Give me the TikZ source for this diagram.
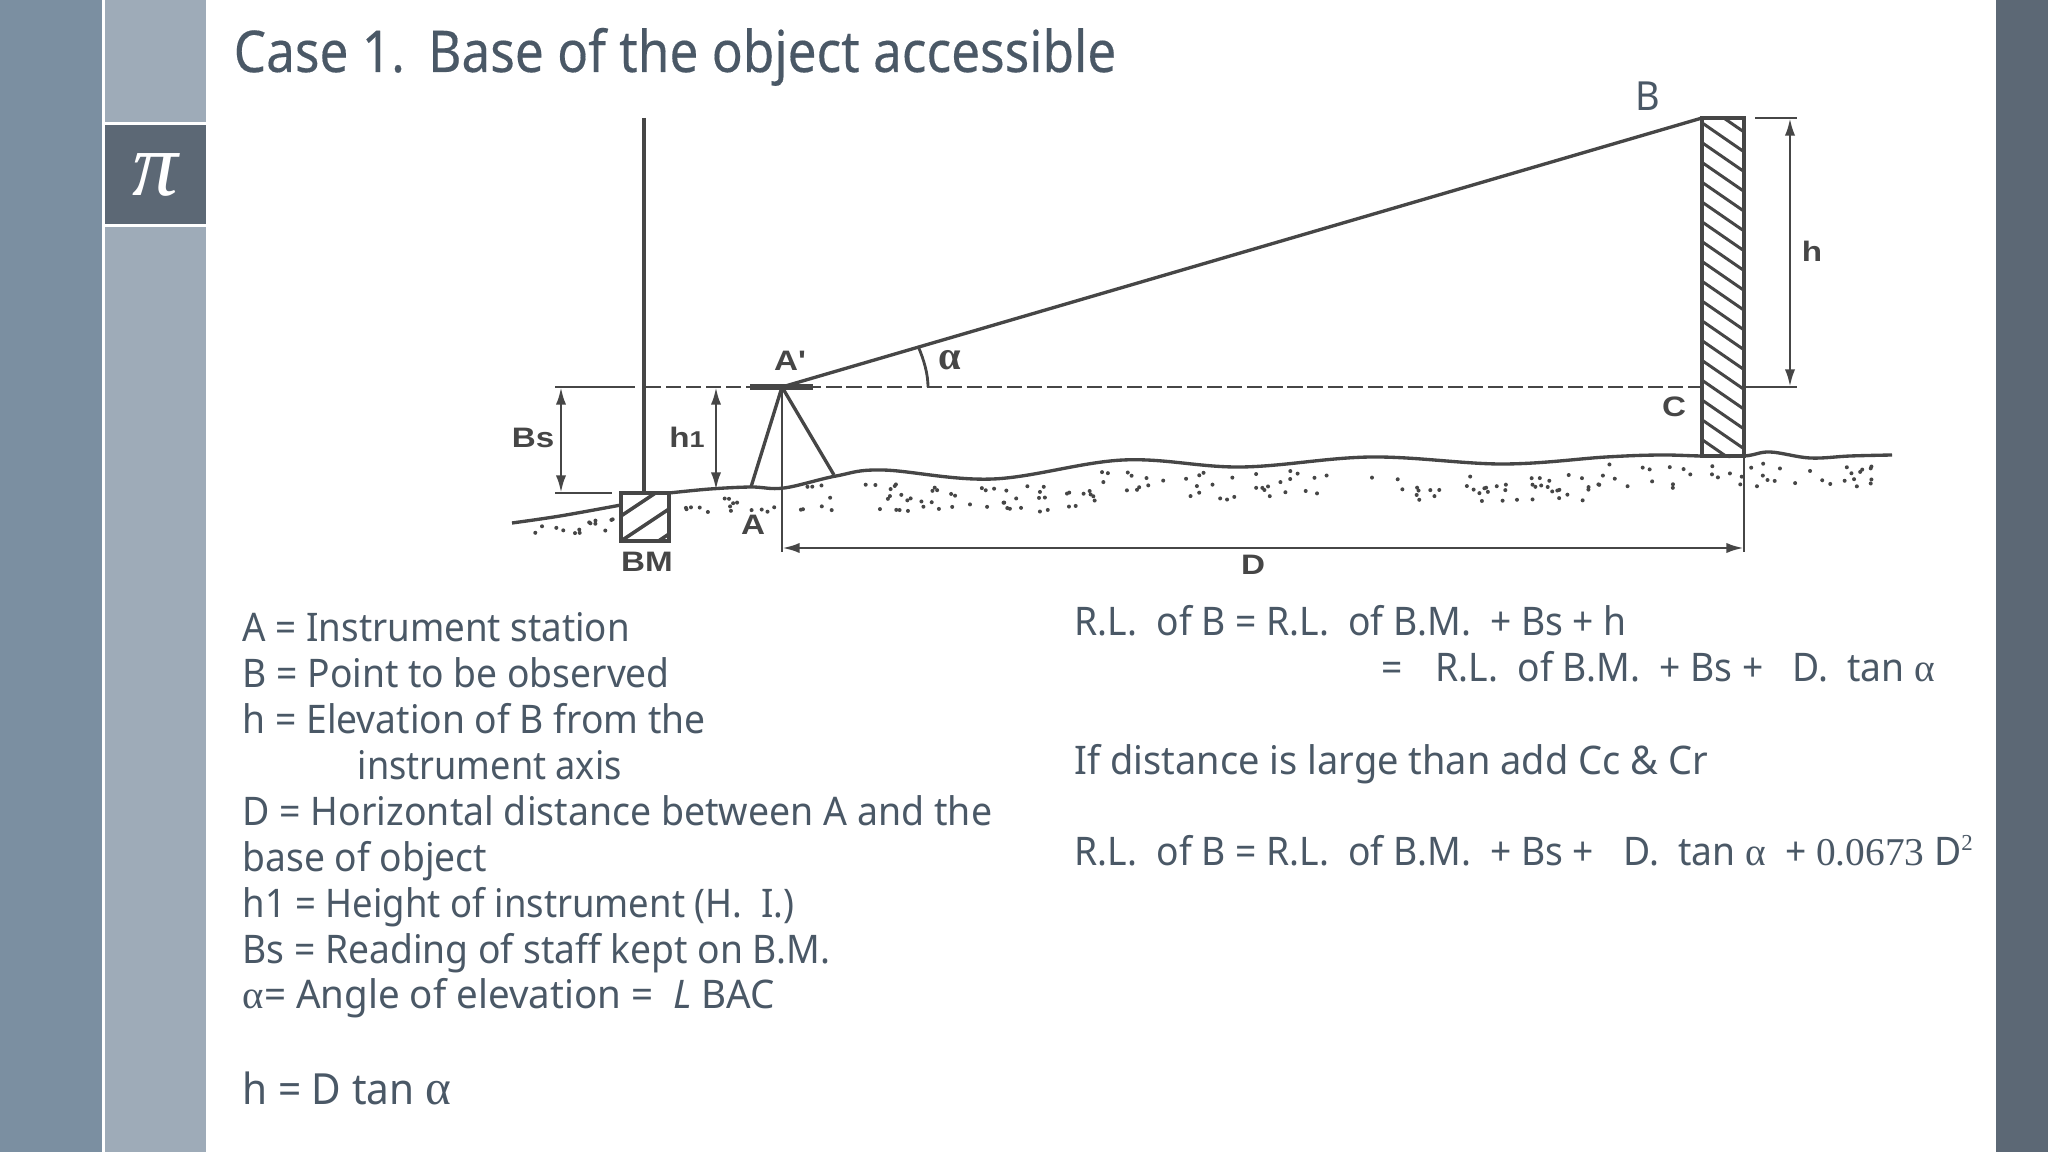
\documentclass[tikz,border=0pt]{standalone}
\usepackage{graphicx}
\usepackage{fontspec}
\setmainfont[FakeStretch=0.945]{Noto Sans}
\newfontfamily\titlefont[FakeStretch=0.89,FakeBold=0.25]{Noto Sans}
\newfontfamily\serifgr{Liberation Serif}
\newfontfamily\labfont[FakeStretch=1.18]{Liberation Sans}
\newfontfamily\pifont{Liberation Serif}
\usetikzlibrary{arrows.meta}
\definecolor{bandA}{HTML}{7B8FA1}
\definecolor{bandB}{HTML}{9EABB8}
\definecolor{bandC}{HTML}{5C6875}
\definecolor{ink}{HTML}{4A5866}
\definecolor{sketch}{HTML}{464646}
\newcommand{\al}{{\serifgr α}}
\newcommand{\stw}[2]{\scalebox{#1}[1]{#2}}
\tikzset{
  x=0.01cm,y=-0.01cm,
  band/.style={fill=#1,draw=none},
  body/.style={anchor=base west,inner sep=0,text=ink,font=\fontsize{11.2}{12}\selectfont},
  fig/.style={draw=sketch,line width=0.95pt},
  thin fig/.style={draw=sketch,line width=0.8pt},
  dim/.style={thin fig,{Latex[length=5pt,width=2.9pt]}-{Latex[length=5pt,width=2.9pt]}},
  lab/.style={inner sep=0,text=sketch,font=\labfont\fontsize{8}{9}\selectfont\bfseries},
  speck/.style={fill=sketch},
}
\begin{document}
\begin{tikzpicture}
\useasboundingbox (0,0) rectangle (2048,1152);
\fill[white] (0,0) rectangle (2048,1152);
% slide bands
\path[band=bandA] (0,0) rectangle (102,1152);
\path[band=bandB] (105,0) rectangle (206,122);
\path[band=bandC] (105,125) rectangle (206,224);
\path[band=bandB] (105,227) rectangle (206,1152);
\path[band=bandC] (1996,0) rectangle (2048,1152);
\node[text=white,inner sep=0,font=\pifont\fontsize{26}{28}\selectfont\itshape] (pi) at (155,175) {π};
% title
\node[anchor=base west,inner sep=0,text=ink,font=\titlefont\fontsize{16.4}{18}\selectfont] (title) at (233,72) {Case 1.\hspace{6.6pt}Base of the object accessible};
% key points
\coordinate (staffTop) at (644,118);
\coordinate (staffBot) at (644,493);
\coordinate (apex) at (782,387);
\coordinate (legL) at (751,487);
\coordinate (legR) at (834,475);
\coordinate (plumb) at (782,552);
\coordinate (top) at (1702,118);
\coordinate (levelL) at (555,387);
\coordinate (levelA) at (635,387);
\coordinate (levelB) at (646,387);
\coordinate (levelC) at (1702,387);
\coordinate (barL) at (750,387);
\coordinate (barR) at (813,387);
\coordinate (arcA) at (928,387);
\coordinate (arcB) at (918,346);
% ground
\draw[fig] plot[smooth,tension=0.6] coordinates {(512,523) (560,516) (621,505)};
\draw[fig] plot[smooth,tension=0.6] coordinates {(669,493) (710,489) (751,487) (784,488) (836,476) (883,470) (993,479) (1123,460) (1241,467) (1371,457) (1502,464) (1606,457) (1660,455) (1702,456) (1744,456) (1770,452) (1810,458) (1850,456) (1892,455)};
% speckles
\pgfmathsetseed{4711}
\foreach \i in {1,...,60}{
  \pgfmathsetmacro{\dx}{800+rnd*300}
  \pgfmathsetmacro{\dy}{484+rnd*28}
  \fill[speck] (\dx,\dy) circle (2);
}
\foreach \i in {1,...,80}{
  \pgfmathsetmacro{\dx}{1100+rnd*500}
  \pgfmathsetmacro{\dy}{471+rnd*30}
  \fill[speck] (\dx,\dy) circle (2);
}
\foreach \i in {1,...,40}{
  \pgfmathsetmacro{\dx}{1600+rnd*290}
  \pgfmathsetmacro{\dy}{463+rnd*26}
  \fill[speck] (\dx,\dy) circle (2);
}
\foreach \i in {1,...,14}{
  \pgfmathsetmacro{\dx}{520+rnd*95}
  \pgfmathsetmacro{\dy}{528+rnd*13-(\dx-520)*0.12}
  \fill[speck] (\dx,\dy) circle (2);
}
\foreach \i in {1,...,15}{
  \pgfmathsetmacro{\dx}{680+rnd*95}
  \pgfmathsetmacro{\dy}{495+rnd*17}
  \fill[speck] (\dx,\dy) circle (2);
}
% staff and BM
\draw[fig,line width=1.05pt] (staffTop) -- (staffBot);
\draw[fig,line width=1.05pt] (621,493) rectangle (669,541);
\begin{scope}
\clip (621,493) rectangle (669,541);
\foreach \k in {0,1,2,3}{
  \draw[fig,line width=1pt] (621,{516+\k*25}) -- (669,{516+\k*25-32});
}
\end{scope}
% level line and instrument
\draw[thin fig] (levelL) -- (levelA);
\draw[thin fig,dash pattern=on 4.3pt off 1.4pt] (levelB) -- (levelC);
\draw[fig,line width=1.9pt] (barL) -- (barR);
\draw[fig] (apex) -- (top);
\draw[fig] (apex) -- (legL);
\draw[fig] (apex) -- (legR);
\draw[thin fig] (apex) -- (plumb);
\draw[thin fig] (arcA) .. controls (928,374) and (924,360) .. (arcB);
% column
\draw[fig,fill=white] (1702,118) rectangle (1744,456);
\begin{scope}
\clip (1702,118) rectangle (1744,456);
\foreach \k in {0,...,17}{
  \draw[fig,line width=0.85pt] (1702,{103+\k*19.8}) -- (1744,{132+\k*19.8});
}
\end{scope}
% dimensions
\coordinate (hT) at (1790,118);
\coordinate (hB) at (1790,387);
\draw[thin fig] (1755,118) -- (1797,118);
\draw[thin fig] (1744,387) -- (1797,387);
\draw[dim] (hT) -- (hB);
\coordinate (bsT) at (561,387);
\coordinate (bsB) at (561,493);
\draw[thin fig] (555,493) -- (612,493);
\draw[dim] (bsT) -- (bsB);
\coordinate (hoT) at (716,387);
\coordinate (hoB) at (716,490);
\draw[dim] (hoT) -- (hoB);
\coordinate (dL) at (782,548);
\coordinate (dR) at (1744,548);
\draw[dim] (dL) -- (dR);
\draw[thin fig] (1744,456) -- (1744,552);
% sketch labels
\node[lab] (lBs) at (533,438) {Bs};
\node[lab] (lh1) at (687,437) {h{\fontsize{6.5}{7}\selectfont 1}};
\node[lab] (lBM) at (647,562) {BM};
\node[lab] (lA) at (753,525) {A};
\node[lab] (lAp) at (790,361) {A'};
\node[lab,font=\serifgr\fontsize{11.5}{12}\selectfont\bfseries] (lal) at (950,360) {α};
\node[lab] (lC) at (1674,407) {C};
\node[lab] (lh) at (1812,251) {h};
\node[lab] (lD) at (1253,565) {D};
\node[inner sep=0,text=ink,font=\fontsize{11.4}{12}\selectfont] (lB) at (1648,96) {B};
% left text
\node[body] (t1) at (242,641) {\stw{0.987}{A = Instrument station}};
\node[body] (t2) at (242,687) {B = Point to be observed};
\node[body] (t3) at (242,733) {h = Elevation of B from the};
\node[body] (t4) at (357,779) {\stw{0.97}{instrument axis}};
\node[body] (t5) at (242,825) {\stw{1.007}{D = Horizontal distance between A and the}};
\node[body] (t6) at (242,871) {base of object};
\node[body] (t7) at (242,917) {\stw{0.98}{h1 = Height of instrument (H.\ \ I.)}};
\node[body] (t8) at (242,963) {Bs = Reading of staff kept on B.M.};
\node[body] (t9) at (242,1008) {\stw{1.035}{\al= Angle of elevation =\ \ \textit{L} BAC}};
\node[body,font=\fontsize{12.2}{13}\selectfont] (t10) at (242,1104) {h = D tan {\fontsize{14}{14}\selectfont\al}};
% right text
\node[body] (r1) at (1074,636) {R.L.\ \ of B = R.L.\ \ of B.M.\ \ + Bs + h};
\node[body] (r2a) at (1381,681) {=};
\node[body] (r2b) at (1435,681) {R.L.\ \ of B.M.\ \ + Bs +\ \ \ D.\ \ tan \al};
\node[body] (r3) at (1074,774) {\stw{1.02}{If distance is large than add Cc \& Cr}};
\node[body] (r4) at (1074,865) {R.L.\ \ of B = R.L.\ \ of B.M.\ \ + Bs +\ \ \ D.\ \ tan \al\ \ + {\serifgr 0.0673} D{\fontsize{6.5}{7}\selectfont\raisebox{4.2pt}{\serifgr 2}}};
\end{tikzpicture}
\end{document}
